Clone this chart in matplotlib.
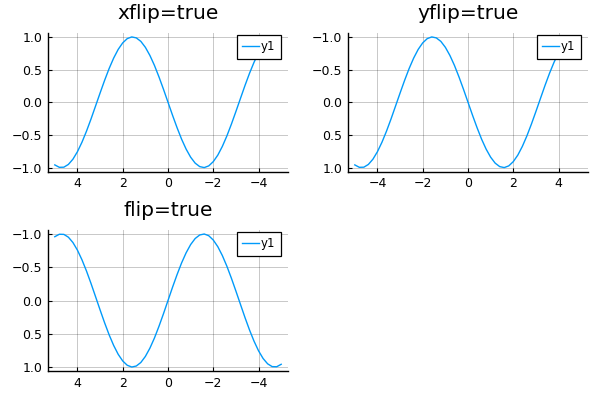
import matplotlib
matplotlib.use("Agg")
import matplotlib.pyplot as plt

# sin(x), x step 0.2
x_vals = [-5.0, -4.8, -4.6, -4.4, -4.2, -4.0, -3.8, -3.6, -3.4, -3.2,
          -3.0, -2.8, -2.6, -2.4, -2.2, -2.0, -1.8, -1.6, -1.4, -1.2,
          -1.0, -0.8, -0.6, -0.4, -0.2, 0.0, 0.2, 0.4, 0.6, 0.8,
          1.0, 1.2, 1.4, 1.6, 1.8, 2.0, 2.2, 2.4, 2.6, 2.8,
          3.0, 3.2, 3.4, 3.6, 3.8, 4.0, 4.2, 4.4, 4.6, 4.8, 5.0]
y_vals = [0.959, 0.996, 0.994, 0.952, 0.872, 0.757, 0.612, 0.443, 0.256, 0.058,
          -0.141, -0.335, -0.516, -0.676, -0.809, -0.909, -0.974, -1.000, -0.985, -0.932,
          -0.841, -0.717, -0.565, -0.389, -0.199, 0.000, 0.199, 0.389, 0.565, 0.717,
          0.841, 0.932, 0.985, 1.000, 0.974, 0.909, 0.809, 0.676, 0.516, 0.335,
          0.141, -0.058, -0.256, -0.443, -0.612, -0.757, -0.872, -0.952, -0.994, -0.996, -0.959]

titles = ["xflip=true", "yflip=true", "flip=true"]
xflips = [True, False, True]
yflips = [False, True, True]
x_ticks = [-4, -2, 0, 2, 4]
y_ticks = [-1.0, -0.5, 0.0, 0.5, 1.0]

line_color = "#009AFA"

fig = plt.figure(figsize=(6, 4), dpi=100)
positions = [
    [48 / 600, 1 - 171.5 / 400, 240 / 600, 138.5 / 400],
    [348 / 600, 1 - 171.5 / 400, 240 / 600, 138.5 / 400],
    [48 / 600, 1 - 371 / 400, 240 / 600, 141 / 400],
]

for pos, title, xf, yf in zip(positions, titles, xflips, yflips):
    ax = fig.add_axes(pos)
    ax.plot(x_vals, y_vals, color=line_color, lw=1, label="y1")
    xlim = (-5.3, 5.3)
    ylim = (-1.06, 1.06)
    ax.set_xlim(xlim[::-1] if xf else xlim)
    ax.set_ylim(ylim[::-1] if yf else ylim)
    ax.set_xticks(x_ticks)
    ax.set_yticks(y_ticks)
    ax.set_yticklabels(["%.1f" % v if v >= 0 else "\u2212%.1f" % -v for v in y_ticks])
    ax.set_xticklabels(["%d" % v if v >= 0 else "\u2212%d" % -v for v in x_ticks])
    ax.grid(True, color="black", alpha=0.22, lw=0.7)
    ax.spines["top"].set_visible(False)
    ax.spines["right"].set_visible(False)
    ax.spines["left"].set_linewidth(1.0)
    ax.spines["bottom"].set_linewidth(1.0)
    ax.tick_params(direction="in", length=3, width=0.8, labelsize=9, pad=4, colors="black")
    ax.set_title(title, fontsize=14.5, pad=10)
    leg = ax.legend(loc="upper right", bbox_to_anchor=(0.97, 0.986), fontsize=8.5,
                    handlelength=1.4, handletextpad=0.2, borderpad=0.45,
                    fancybox=False, framealpha=1, edgecolor="black", borderaxespad=0)
    leg.get_frame().set_linewidth(0.9)

fig.savefig("out.png", dpi=100)
